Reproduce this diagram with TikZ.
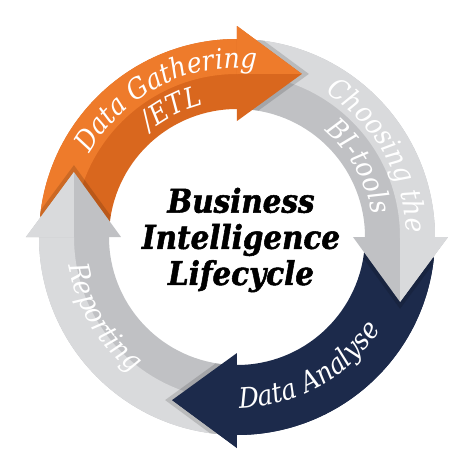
\documentclass[tikz,border=0pt]{standalone}
\usepackage{fontspec}
\usetikzlibrary{decorations.text}
\newfontfamily\titlefont{DejaVu Serif Condensed}[BoldItalicFeatures={FakeBold=1.6}]
\newfontfamily\labelfont{DejaVu Serif Condensed}
\definecolor{olcol}{HTML}{EE7B2B}
\definecolor{odcol}{HTML}{D9671E}
\definecolor{glcol}{HTML}{D9DADC}
\definecolor{gdcol}{HTML}{C0C1C4}
\definecolor{ncol}{HTML}{1C2A4B}
\newcommand{\ringfont}{\labelfont\fontsize{16}{16}\selectfont\itshape}
% ring segment: from angle, to angle, outer colour, inner colour
\newcommand{\ringpart}[4]{%
  \fill[#4] (#1:128) arc[start angle=#1,end angle=#2,radius=128] -- (#2:198) arc[start angle=#2,end angle=#1,radius=198] -- cycle;
  \fill[#3] (#1:163) arc[start angle=#1,end angle=#2,radius=163] -- (#2:198) arc[start angle=#2,end angle=#1,radius=198] -- cycle;}
% arrow head at an angle, pointing clockwise
\newcommand{\ringhead}[3]{%
  \fill[#3] (#1:211) -- (#1-21.7:175.5) -- (#1:116) -- cycle;
  \fill[#2] (#1:211) -- (#1-21.7:175.5) -- (#1:163) -- cycle;}

\begin{document}
\begin{tikzpicture}[x=0.02cm,y=0.02cm,
  ringtext/.style={decorate,decoration={text along path,text align=center,text color=white,text={|\ringfont|#1}}},
  title/.style={font=\fontsize{18.6}{20.6}\selectfont\titlefont\bfseries\itshape,align=center,inner sep=0pt}]
\path[fill=white,use as bounding box] (-237,-237) rectangle (237,237);
% ring bodies
\ringpart{84}{0}{glcol}{gdcol}
\ringpart{-6}{-90}{ncol}{ncol}
\ringpart{264}{180}{glcol}{gdcol}
\ringpart{174}{90}{olcol}{odcol}
% shadows of the heads
\begin{scope}[even odd rule]
  \clip (0,0) circle (198) (0,0) circle (128);
  \foreach \h in {90,0,-90,180}
    \fill[black,opacity=.14,shift={(\h-90:7)}] (\h:211) -- (\h-21.7:175.5) -- (\h:116) -- cycle;
\end{scope}
% heads
\ringhead{90}{olcol}{odcol}
\ringhead{0}{glcol}{gdcol}
\ringhead{-90}{ncol}{ncol}
\ringhead{180}{glcol}{gdcol}
% labels along the ring
\path[ringtext={Data Gathering}] (187:169) arc[start angle=187,end angle=47,radius=169];
\path[ringtext={/ETL}] (187:137) arc[start angle=187,end angle=47,radius=137];
\path[ringtext={Choosing the}] (100:169) arc[start angle=100,end angle=-40,radius=169];
\path[ringtext={BI-tools}] (100:137) arc[start angle=100,end angle=-40,radius=137];
\path[ringtext={Data Analyse}] (-131:171) arc[start angle=-131,end angle=9,radius=171];
\path[ringtext={Reporting}] (141:171) arc[start angle=141,end angle=281,radius=171];
% centre
\node[title] (bil) at (4,-3) {Business\\Intelligence\\Lifecycle};
\end{tikzpicture}
\end{document}
